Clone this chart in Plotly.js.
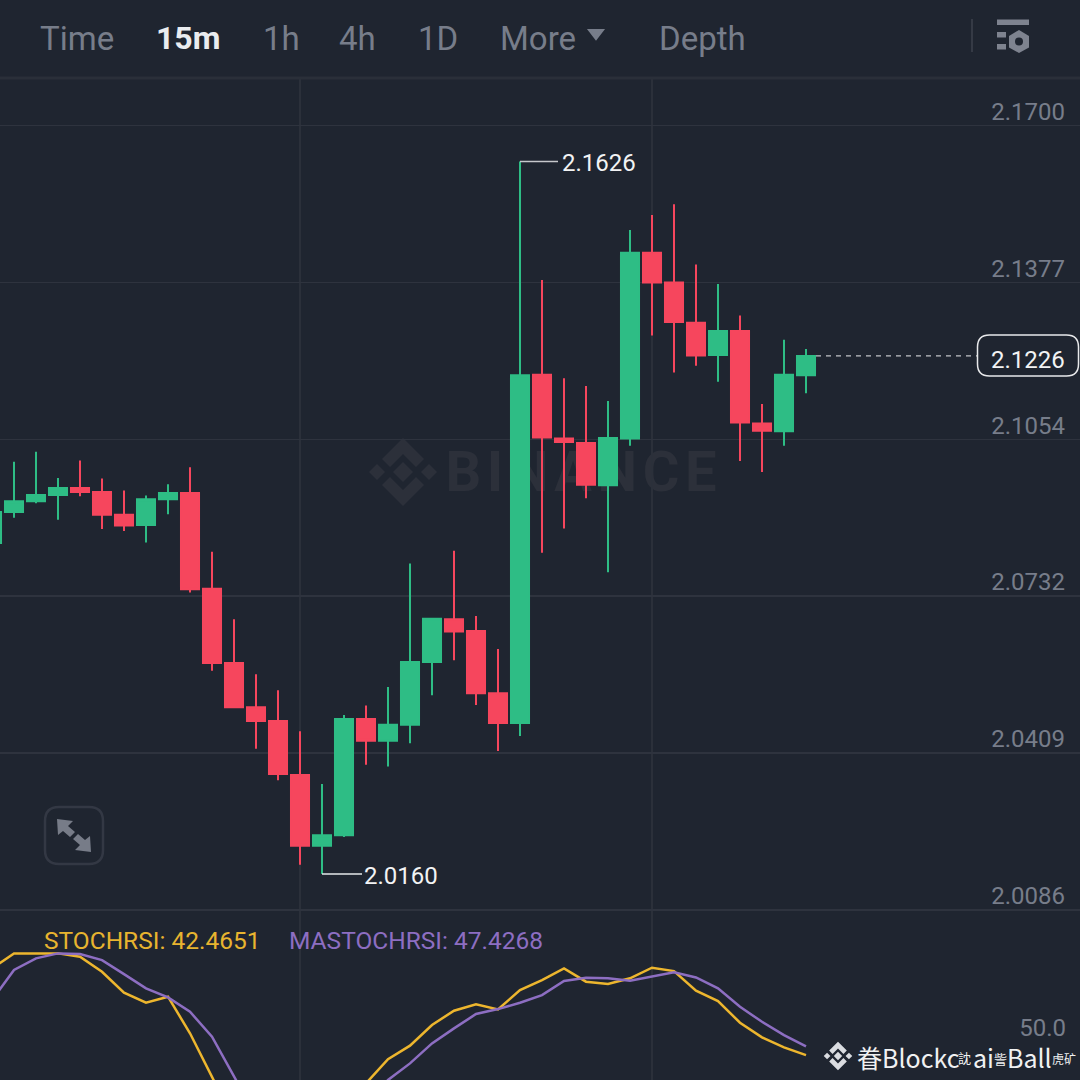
<!DOCTYPE html>
<html>
<head>
<meta charset="utf-8">
<script src="https://cdn.plot.ly/plotly-3.0.1.min.js"></script>
<style>html,body{margin:0;padding:0;background:#1F2530}#c{width:1080px;height:1080px}</style>
</head>
<body>
<div id="c"></div>
<script>
const opens  = [2.0841,2.0905,2.0927,2.0940,2.0954,2.0946,2.0899,2.0878,2.0931,2.0944,2.0747,2.0594,2.0503,2.0475,2.0364,2.0218,2.0240,2.0479,2.0434,2.0467,2.0596,2.0684,2.0660,2.0532,2.0471,2.1187,2.1056,2.1047,2.0960,2.1056,2.1438,2.1377,2.1294,2.1228,2.1277,2.1087,2.1071,2.1186];
const highs  = [2.0930,2.1008,2.1029,2.0975,2.1011,2.0974,2.0949,2.0939,2.0962,2.0997,2.0823,2.0684,2.0571,2.0538,2.0454,2.0345,2.0487,2.0507,2.0545,2.0799,2.0687,2.0825,2.0691,2.0623,2.1626,2.1382,2.1180,2.1164,2.1133,2.1485,2.1516,2.1538,2.1414,2.1374,2.1309,2.1127,2.1259,2.1240];
const lows   = [2.0837,2.0893,2.0923,2.0889,2.0937,2.0870,2.0866,2.0842,2.0900,2.0739,2.0578,2.0503,2.0418,2.0353,2.0179,2.0160,2.0236,2.0385,2.0381,2.0429,2.0528,2.0600,2.0508,2.0413,2.0444,2.0821,2.0871,2.0933,2.0781,2.1041,2.1268,2.1192,2.1206,2.1173,2.1010,2.0987,2.1041,2.1149];
const closes = [2.0905,2.0927,2.0940,2.0954,2.0946,2.0899,2.0877,2.0931,2.0944,2.0746,2.0594,2.0503,2.0475,2.0366,2.0218,2.0240,2.0479,2.0434,2.0467,2.0596,2.0685,2.0659,2.0532,2.0471,2.1186,2.1058,2.1049,2.0961,2.1057,2.1438,2.1377,2.1296,2.1227,2.1277,2.1089,2.1072,2.1187,2.1226];
const stochRsi   = [91.5,100,100,100,98.1,89.6,77.8,72.1,75.5,54.8,30.2,5,0,0,0,0,0,26.5,40.2,47.8,59.5,67.6,71.2,68.3,79.3,84.9,91.5,84.0,82.7,85.9,91.9,90.0,78.9,73.0,60.8,52.5,46.8,42.4651];
const maStochRsi = [73.6,90.6,97.2,100,99.6,96.2,88.3,80.2,75.1,67.0,52.9,30.2,8,0,0,0,0,14,28.4,37.8,49.1,57.6,65.7,68.5,72.1,76.4,84.4,86.2,85.9,84.5,86.8,89.3,86.4,80.2,69.8,61.3,53.8,47.4268];
const priceTicks = [2.17,2.1377,2.1054,2.0732,2.0409,2.0086];
const priceTickLabels = ['2.1700','2.1377','2.1054','2.0732','2.0409','2.0086'];
const timeGridIdx = [14,30];
const tabs = [['Time',38,'#777D8A',400],['15m',154,'#EAECEF',700],['1h',261,'#777D8A',400],['4h',337,'#777D8A',400],['1D',416,'#777D8A',400],['More',498,'#777D8A',400],['Depth',657,'#777D8A',400]];
const lastPrice = 2.1226, highPrice = 2.1626, lowPrice = 2.0160;

const idx = opens.map((_, i) => i);
const FONT = 'Roboto, sans-serif', CJK = '"Noto Sans CJK SC", sans-serif', BG = '#1F2530', GRID = '#2E333E', GREEN = '#2EBD85', RED = '#F6465D';
const PW = 1080;
const X = v => v / PW, Y = v => 1 - v / PW;
const poly = pts => 'M' + pts.map(p => X(p[0]) + ',' + Y(p[1])).join(' L') + ' Z';
const paperShape = (path, fill, extra) => Object.assign({type:'path', xref:'paper', yref:'paper', path, fillcolor:fill, line:{width:0}}, extra || {});
function rrect(x0, y0, x1, y1, r) {
  return 'M' + X(x0 + r) + ',' + Y(y0) + ' L' + X(x1 - r) + ',' + Y(y0) + ' Q' + X(x1) + ',' + Y(y0) + ' ' + X(x1) + ',' + Y(y0 + r) +
    ' L' + X(x1) + ',' + Y(y1 - r) + ' Q' + X(x1) + ',' + Y(y1) + ' ' + X(x1 - r) + ',' + Y(y1) +
    ' L' + X(x0 + r) + ',' + Y(y1) + ' Q' + X(x0) + ',' + Y(y1) + ' ' + X(x0) + ',' + Y(y1 - r) +
    ' L' + X(x0) + ',' + Y(y0 + r) + ' Q' + X(x0) + ',' + Y(y0) + ' ' + X(x0 + r) + ',' + Y(y0) + ' Z';
}
function logo(cx, cy, s, fill, layer) {
  const rel = a => a.map(p => [cx + p[0] * s, cy + p[1] * s]);
  const dia = (dx, r) => rel([[dx, -r], [dx + r, 0], [dx, r], [dx - r, 0]]);
  const o = layer ? {layer} : {};
  return [
    paperShape(poly(dia(0, 10)), fill, o), paperShape(poly(dia(-26, 8)), fill, o), paperShape(poly(dia(26, 8)), fill, o),
    paperShape(poly(rel([[0,-34],[21,-13],[13,-5],[0,-18],[-13,-5],[-21,-13]])), fill, o),
    paperShape(poly(rel([[0,34],[21,13],[13,5],[0,18],[-13,5],[-21,13]])), fill, o)
  ];
}
const arrowA = [[57,819],[73,821],[68,826],[75,832],[70,837],[63,831],[58,835]];
const arrowB = arrowA.map(p => [148 - p[0], 1671 - p[1]]);
const hex = [[1019,30],[1029,36],[1029,47.5],[1019,53],[1009,47.5],[1009,36]];

const shapes = [
  {type:'line', xref:'paper', yref:'paper', x0:0, x1:1, y0:Y(78), y1:Y(78), line:{color:'#2A2F39', width:3}},
  ...logo(403, 472, 1, '#2C303A', 'below'),
  {type:'rect', xref:'paper', yref:'paper', x0:X(450), x1:X(712), y0:Y(488), y1:Y(448), layer:'below', line:{width:0}, fillcolor:'rgba(0,0,0,0)',
   label:{text:'<b>B\u200AI\u200AN\u200AA\u200AN\u200AC\u200AE</b>', textposition:'middle center', font:{family:FONT, size:56, color:'#2C303A'}}},
  {type:'line', xref:'x', yref:'y', x0:idx[24], x1:idx[24] + 38/22, y0:highPrice, y1:highPrice, line:{color:'#C6C8CC', width:1.5}},
  {type:'line', xref:'x', yref:'y', x0:idx[15], x1:idx[15] + 40/22, y0:lowPrice, y1:lowPrice, line:{color:'#E6E8EA', width:1.5}},
  {type:'line', xref:'x', yref:'y', x0:idx[37] + 10/22, x1:idx[37] + 171/22, y0:lastPrice, y1:lastPrice, line:{color:'#EDEEF0', width:1, dash:'5px 5px'}},
  paperShape(rrect(977.5, 335, 1078.5, 376, 12), BG, {line:{color:'#E8E9EB', width:1.5}}),
  paperShape(rrect(45, 807, 103, 864, 14), 'rgba(0,0,0,0)', {line:{color:'#333844', width:2.5}}),
  paperShape(poly(arrowA), '#777C88'), paperShape(poly(arrowB), '#777C88'),
  {type:'line', xref:'paper', yref:'paper', x0:X(972), x1:X(972), y0:Y(19), y1:Y(52), line:{color:'#353A45', width:2}},
  paperShape(poly([[997,19.5],[1029,19.5],[1029,25],[997,25]]), '#7E838F'),
  paperShape(poly([[997,32],[1006,32],[1006,37.5],[997,37.5]]), '#7E838F'),
  paperShape(poly([[997,44],[1006,44],[1006,49.5],[997,49.5]]), '#7E838F'),
  paperShape(poly(hex), '#7E838F'),
  {type:'circle', xref:'paper', yref:'paper', x0:X(1015), x1:X(1023), y0:Y(45.5), y1:Y(37.5), fillcolor:BG, line:{width:0}},
  paperShape(poly([[589,30],[603,30],[596,39]]), '#777D8A', {line:{color:'#777D8A', width:2}}),
  ...logo(838, 1056, 0.42, '#DADCE0')
];

const note = (text, x, y, size, color, extra) => Object.assign({
  xref:'paper', yref:'paper', x:X(x), y:Y(y), xanchor:'left', yanchor:'middle', showarrow:false, text,
  font:{family:FONT, size, color}
}, extra || {});
const foot = (text, x, y, size) => note(text, x, y, size, '#F0F1F2', {font:{family:CJK, size, color:'#F0F1F2'}});

const annotations = [
  ...tabs.map(t => note(t[3] === 700 ? '<b>' + t[0] + '</b>' : t[0], t[1], 38, t[3] === 700 ? 32 : 33, t[2])),
  {xref:'x', yref:'y', x:idx[24], y:highPrice, xshift:40, yshift:-2, xanchor:'left', yanchor:'middle', showarrow:false, text:'2.1626', font:{family:FONT, size:24, color:'#F2F3F4'}},
  {xref:'x', yref:'y', x:idx[15], y:lowPrice, xshift:40, yshift:-2, xanchor:'left', yanchor:'middle', showarrow:false, text:'2.0160', font:{family:FONT, size:24, color:'#F2F3F4'}},
  note(String(lastPrice), 1028, 360, 24, '#F2F3F4', {xanchor:'center'}),
  note('STOCHRSI: 42.4651', 42, 940, 24.5, '#E8B42F'),
  note('MASTOCHRSI: 47.4268', 287, 940, 24.5, '#8D6EC2'),
  foot('眷Blockc', 855, 1057, 25),
  foot('訦', 956, 1057, 13),
  foot('ai', 971, 1057, 25),
  foot('訾', 992, 1058, 13),
  foot('Ball', 1005, 1057, 25),
  foot('虎矿', 1050, 1058, 12)
];

const traces = [
  {type:'candlestick', x:idx, open:opens, high:highs, low:lows, close:closes, xaxis:'x', yaxis:'y', whiskerwidth:0, hoverinfo:'skip',
   increasing:{line:{color:GREEN, width:2}, fillcolor:GREEN}, decreasing:{line:{color:RED, width:2}, fillcolor:RED}},
  {type:'scatter', mode:'lines', x:idx, y:stochRsi, xaxis:'x', yaxis:'y2', hoverinfo:'skip', line:{color:'#EDB62E', width:2.5}},
  {type:'scatter', mode:'lines', x:idx, y:maStochRsi, xaxis:'x', yaxis:'y2', hoverinfo:'skip', line:{color:'#8D6EC2', width:2.5}}
];

const layout = {
  width:1080, height:1080, margin:{l:0, r:0, t:0, b:0}, paper_bgcolor:BG, plot_bgcolor:BG, showlegend:false, boxgap:0.18, boxgroupgap:0,
  xaxis:{domain:[0,1], range:[8/22, 1088/22], type:'linear', rangeslider:{visible:false}, showticklabels:false, ticks:'', zeroline:false, showline:false,
         tickmode:'array', tickvals:timeGridIdx, showgrid:true, gridcolor:'#2B303A', gridwidth:1.5, anchor:'y2'},
  yaxis:{domain:[1 - 912/1080, 1 - 79/1080], range:[2.00819, 2.17957], side:'right', tickmode:'array', tickvals:priceTicks, ticktext:priceTickLabels,
         ticklabelposition:'inside', ticklabelstandoff:12, ticklabelshift:-14, ticks:'', showgrid:true, gridcolor:GRID, gridwidth:1.5, zeroline:false, showline:false,
         tickfont:{family:FONT, size:24, color:'#777D8A'}},
  yaxis2:{domain:[0, 1 - 912/1080], range:[28.4, 123.4], side:'right', tickmode:'array', tickvals:[50], ticktext:['50.0'],
         ticklabelposition:'inside', ticklabelstandoff:11, ticklabelshift:-14, ticks:'', showgrid:false, zeroline:false, showline:false,
         tickfont:{family:FONT, size:24, color:'#777D8A'}},
  shapes, annotations
};
Plotly.newPlot('c', traces, layout, {displayModeBar:false, staticPlot:true});
</script>
</body>
</html>
